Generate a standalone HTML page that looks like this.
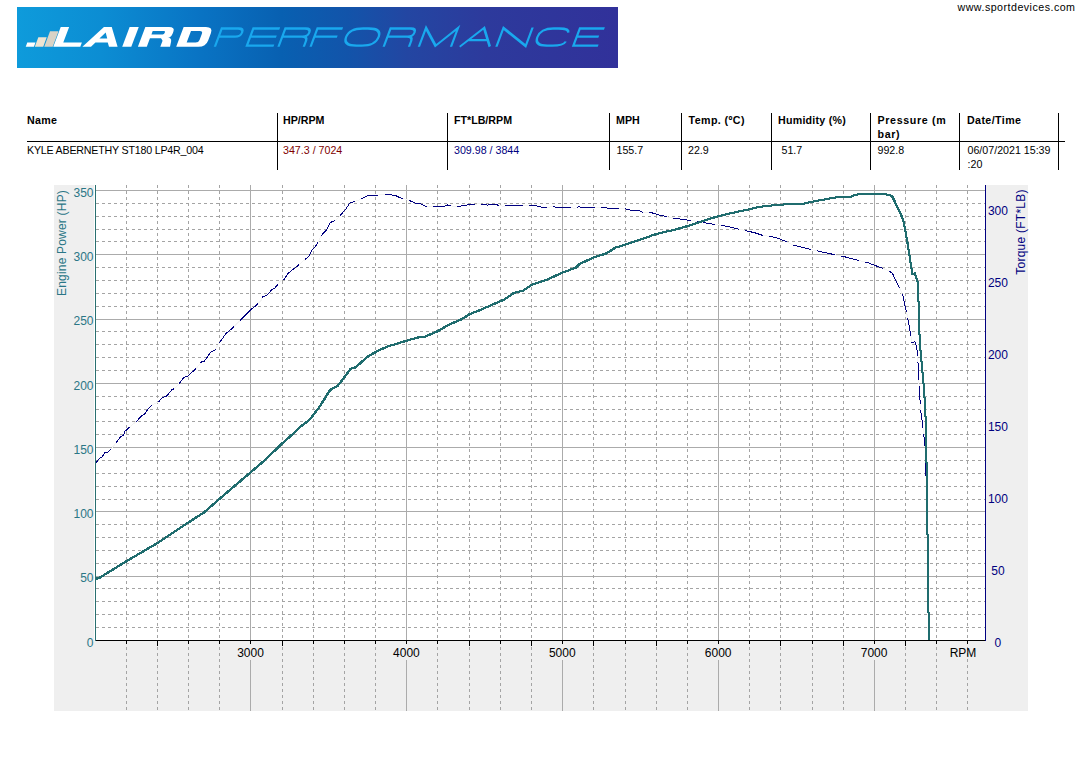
<!DOCTYPE html>
<html><head><meta charset="utf-8"><title>Laird Performance Dyno</title>
<style>
html,body{margin:0;padding:0;background:#fff;}
body{width:1088px;height:764px;position:relative;overflow:hidden;font-family:"Liberation Sans",sans-serif;}
.banner{position:absolute;left:17px;top:7px;width:601px;height:61px;
 background:linear-gradient(90deg,#0e9bdb 0%,#0c8dd3 14%,#0974c4 30%,#0860b1 44%,#1254aa 55%,#2346a2 65%,#2d3a9c 78%,#31319a 100%);}
.t{position:absolute;font-size:10.67px;line-height:14px;white-space:nowrap;color:#000;}
.b{font-weight:bold;}
.vl{position:absolute;top:113px;width:1px;height:57px;background:#000;}
.yl{position:absolute;left:54px;width:39.5px;text-align:right;font-size:12px;line-height:14px;color:#2a7686;}
.yr{position:absolute;left:977.4px;width:41px;text-align:center;font-size:12px;line-height:14px;color:#000080;}
.xl{position:absolute;top:645.5px;width:40px;text-align:center;font-size:12px;line-height:14px;color:#000;}
.rot{position:absolute;font-size:12px;line-height:14px;white-space:nowrap;transform:translate(-50%,-50%) rotate(-90deg);}
</style></head><body>
<div class="banner">
<svg width="600" height="61" viewBox="17 7 600 61" style="position:absolute;left:0;top:0">
 <g transform="translate(0 46.7) skewX(-20.6)">
  <rect x="25.7" y="-4.2" width="8.2" height="4.2" fill="#ffffff"/>
  <rect x="34.8" y="-9.4" width="8.4" height="9.4" fill="#eee4d2"/>
  <rect x="44.2" y="-15.5" width="8.5" height="15.5" fill="#d9d3c6"/>
  <g fill="#ffffff" fill-rule="evenodd">
   <path d="M53.3,0 H80.3 V-4.2 H61.7 V-19.8 H53.3 Z"/>
   <path d="M82.4,0 L96.5,-19.8 H104.3 L117.6,0 H109 L106.2,-4.15 H93.9 L91,0 Z M96.4,-8.1 L100.3,-14.3 L104.2,-8.1 Z"/>
   <path d="M122.2,0 H131.3 V-19.8 H122.2 Z"/>
   <path d="M137.9,0 V-19.8 H161.5 Q167.7,-19.8 167.7,-15.2 V-13 Q167.7,-8.4 161.5,-8.4 H146.8 V0 Z M146.8,-12.3 H158 Q159.5,-12.3 159.5,-13.6 V-14.4 Q159.5,-15.7 158,-15.7 H146.8 Z"/>
   <path d="M160.3,0 H170 L169.2,-5 Q168.6,-9.2 163,-9.4 H157 L160.3,-6 Z"/>
   <path d="M176.2,0 V-19.8 H198.5 Q205.8,-19.8 205.8,-13.5 V-6.3 Q205.8,0 198.5,0 Z M185.1,-4.15 H194 Q197,-4.15 197,-6.8 V-13 Q197,-15.7 194,-15.7 H185.1 Z"/>
  </g>
  <g fill="none" stroke="#19a8ee" stroke-width="2.3" stroke-miterlimit="3">
   <path d="M214.9,0 V-18.2 H231.5 Q236.8,-18.2 236.8,-14.1 Q236.8,-10 231.5,-10 H214.9"/>
   <path d="M272.9,-18.2 H246.5 V-1 H273.5 M246.5,-10 H272.6"/>
   <path d="M278.5,0 V-18.2 H298.5 Q304,-18.2 304,-14.1 Q304,-10 298.5,-10 H278.5 M298.5,-10 Q303.6,-10 303.8,-6 V0"/>
   <path d="M335.8,-18.2 H310.6 V0 M310.6,-10 H333.5"/>
   <path d="M356,-18.2 H361.5 Q375,-18.2 375,-9.6 Q375,-1 361.5,-1 H356 Q342.5,-1 342.5,-9.6 Q342.5,-18.2 356,-18.2 Z"/>
   <path d="M383.7,0 V-18.2 H403.7 Q409.2,-18.2 409.2,-14.1 Q409.2,-10 403.7,-10 H383.7 M403.7,-10 Q408.8,-10 409,-6 V0"/>
   <path d="M418.9,0 V-18.8 L435.2,-1 L451,-18.8 V0"/>
   <path d="M459.7,0 L477,-18.8 L489.8,0 M465.8,-6.6 H485.3"/>
   <path d="M496.4,0 V-18.6 L525.4,-0.8 V-19.2"/>
   <path d="M563,-14 Q562.5,-18.2 552,-18.2 H546.5 Q533.8,-18.2 533.8,-9.6 Q533.8,-1 546.5,-1 H552 Q563,-1 563.8,-5.2"/>
   <path d="M597.6,-18.2 H573 V-1 H597.8 M573,-10 H595"/>
  </g>
 </g>
</svg>
</div>
<div class="t" style="left:957.5px;top:0px;letter-spacing:0.48px" id="www">www.sportdevices.com</div>

<div style="position:absolute;left:27px;top:141px;width:1038px;height:1px;background:#000"></div>
<div class="vl" style="left:277px"></div><div class="vl" style="left:447px"></div><div class="vl" style="left:609px"></div>
<div class="vl" style="left:681px"></div><div class="vl" style="left:771px"></div><div class="vl" style="left:870px"></div>
<div class="vl" style="left:959px"></div><div class="vl" style="left:1058px"></div>

<div class="t b" style="left:27px;top:113px;letter-spacing:0.3px">Name</div>
<div class="t b" style="left:283px;top:113px">HP/RPM</div>
<div class="t b" style="left:454px;top:113px">FT*LB/RPM</div>
<div class="t b" style="left:616px;top:113px">MPH</div>
<div class="t b" style="left:688.5px;top:113px;letter-spacing:0.42px">Temp. (ºC)</div>
<div class="t b" style="left:778px;top:113px;letter-spacing:0.24px">Humidity (%)</div>
<div class="t b" style="left:877.5px;top:113px;letter-spacing:0.66px">Pressure (m<br>bar)</div>
<div class="t b" style="left:967px;top:113px;letter-spacing:0.4px">Date/Time</div>

<div class="t" style="left:27px;top:142.5px;letter-spacing:-0.2px">KYLE ABERNETHY ST180 LP4R_004</div>
<div class="t" style="left:283px;top:142.5px;color:#800000">347.3 / 7024</div>
<div class="t" style="left:454px;top:142.5px;color:#000080">309.98 / 3844</div>
<div class="t" style="left:616.5px;top:142.5px">155.7</div>
<div class="t" style="left:688px;top:142.5px">22.9</div>
<div class="t" style="left:781.5px;top:142.5px">51.7</div>
<div class="t" style="left:877.5px;top:142.5px">992.8</div>
<div class="t" style="left:967.5px;top:142.5px">06/07/2021 15:39<br>:20</div>
<svg width="1088" height="764" viewBox="0 0 1088 764" style="position:absolute;left:0;top:0" shape-rendering="crispEdges">
<rect x="54" y="185" width="974" height="526" fill="#efefef"/>
<rect x="94" y="185" width="892" height="455" fill="#ffffff"/>
<line x1="96" x2="985" y1="190.5" y2="190.5" stroke="#ababab"/>
<line x1="96" x2="985" y1="203.5" y2="203.5" stroke="#a4a4a4" stroke-dasharray="3 3"/>
<line x1="96" x2="985" y1="216.5" y2="216.5" stroke="#a4a4a4" stroke-dasharray="3 3"/>
<line x1="96" x2="985" y1="229.5" y2="229.5" stroke="#a4a4a4" stroke-dasharray="3 3"/>
<line x1="96" x2="985" y1="241.5" y2="241.5" stroke="#a4a4a4" stroke-dasharray="3 3"/>
<line x1="96" x2="985" y1="254.5" y2="254.5" stroke="#ababab"/>
<line x1="96" x2="985" y1="267.5" y2="267.5" stroke="#a4a4a4" stroke-dasharray="3 3"/>
<line x1="96" x2="985" y1="280.5" y2="280.5" stroke="#a4a4a4" stroke-dasharray="3 3"/>
<line x1="96" x2="985" y1="293.5" y2="293.5" stroke="#a4a4a4" stroke-dasharray="3 3"/>
<line x1="96" x2="985" y1="306.5" y2="306.5" stroke="#a4a4a4" stroke-dasharray="3 3"/>
<line x1="96" x2="985" y1="319.5" y2="319.5" stroke="#ababab"/>
<line x1="96" x2="985" y1="331.5" y2="331.5" stroke="#a4a4a4" stroke-dasharray="3 3"/>
<line x1="96" x2="985" y1="344.5" y2="344.5" stroke="#a4a4a4" stroke-dasharray="3 3"/>
<line x1="96" x2="985" y1="357.5" y2="357.5" stroke="#a4a4a4" stroke-dasharray="3 3"/>
<line x1="96" x2="985" y1="370.5" y2="370.5" stroke="#a4a4a4" stroke-dasharray="3 3"/>
<line x1="96" x2="985" y1="383.5" y2="383.5" stroke="#ababab"/>
<line x1="96" x2="985" y1="396.5" y2="396.5" stroke="#a4a4a4" stroke-dasharray="3 3"/>
<line x1="96" x2="985" y1="409.5" y2="409.5" stroke="#a4a4a4" stroke-dasharray="3 3"/>
<line x1="96" x2="985" y1="421.5" y2="421.5" stroke="#a4a4a4" stroke-dasharray="3 3"/>
<line x1="96" x2="985" y1="434.5" y2="434.5" stroke="#a4a4a4" stroke-dasharray="3 3"/>
<line x1="96" x2="985" y1="447.5" y2="447.5" stroke="#ababab"/>
<line x1="96" x2="985" y1="460.5" y2="460.5" stroke="#a4a4a4" stroke-dasharray="3 3"/>
<line x1="96" x2="985" y1="473.5" y2="473.5" stroke="#a4a4a4" stroke-dasharray="3 3"/>
<line x1="96" x2="985" y1="486.5" y2="486.5" stroke="#a4a4a4" stroke-dasharray="3 3"/>
<line x1="96" x2="985" y1="499.5" y2="499.5" stroke="#a4a4a4" stroke-dasharray="3 3"/>
<line x1="96" x2="985" y1="511.5" y2="511.5" stroke="#ababab"/>
<line x1="96" x2="985" y1="524.5" y2="524.5" stroke="#a4a4a4" stroke-dasharray="3 3"/>
<line x1="96" x2="985" y1="537.5" y2="537.5" stroke="#a4a4a4" stroke-dasharray="3 3"/>
<line x1="96" x2="985" y1="550.5" y2="550.5" stroke="#a4a4a4" stroke-dasharray="3 3"/>
<line x1="96" x2="985" y1="563.5" y2="563.5" stroke="#a4a4a4" stroke-dasharray="3 3"/>
<line x1="96" x2="985" y1="576.5" y2="576.5" stroke="#ababab"/>
<line x1="96" x2="985" y1="588.5" y2="588.5" stroke="#a4a4a4" stroke-dasharray="3 3"/>
<line x1="96" x2="985" y1="601.5" y2="601.5" stroke="#a4a4a4" stroke-dasharray="3 3"/>
<line x1="96" x2="985" y1="614.5" y2="614.5" stroke="#a4a4a4" stroke-dasharray="3 3"/>
<line x1="96" x2="985" y1="627.5" y2="627.5" stroke="#a4a4a4" stroke-dasharray="3 3"/>
<line x1="126.5" x2="126.5" y1="185" y2="711" stroke="#a4a4a4" stroke-dasharray="3 3"/>
<line x1="157.5" x2="157.5" y1="185" y2="711" stroke="#a4a4a4" stroke-dasharray="3 3"/>
<line x1="188.5" x2="188.5" y1="185" y2="711" stroke="#a4a4a4" stroke-dasharray="3 3"/>
<line x1="219.5" x2="219.5" y1="185" y2="711" stroke="#a4a4a4" stroke-dasharray="3 3"/>
<line x1="250.5" x2="250.5" y1="185" y2="640" stroke="#ababab"/>
<line x1="250.5" x2="250.5" y1="660" y2="711" stroke="#ababab"/>
<line x1="282.5" x2="282.5" y1="185" y2="711" stroke="#a4a4a4" stroke-dasharray="3 3"/>
<line x1="313.5" x2="313.5" y1="185" y2="711" stroke="#a4a4a4" stroke-dasharray="3 3"/>
<line x1="344.5" x2="344.5" y1="185" y2="711" stroke="#a4a4a4" stroke-dasharray="3 3"/>
<line x1="375.5" x2="375.5" y1="185" y2="711" stroke="#a4a4a4" stroke-dasharray="3 3"/>
<line x1="406.5" x2="406.5" y1="185" y2="640" stroke="#ababab"/>
<line x1="406.5" x2="406.5" y1="660" y2="711" stroke="#ababab"/>
<line x1="437.5" x2="437.5" y1="185" y2="711" stroke="#a4a4a4" stroke-dasharray="3 3"/>
<line x1="469.5" x2="469.5" y1="185" y2="711" stroke="#a4a4a4" stroke-dasharray="3 3"/>
<line x1="500.5" x2="500.5" y1="185" y2="711" stroke="#a4a4a4" stroke-dasharray="3 3"/>
<line x1="531.5" x2="531.5" y1="185" y2="711" stroke="#a4a4a4" stroke-dasharray="3 3"/>
<line x1="562.5" x2="562.5" y1="185" y2="640" stroke="#ababab"/>
<line x1="562.5" x2="562.5" y1="660" y2="711" stroke="#ababab"/>
<line x1="593.5" x2="593.5" y1="185" y2="711" stroke="#a4a4a4" stroke-dasharray="3 3"/>
<line x1="625.5" x2="625.5" y1="185" y2="711" stroke="#a4a4a4" stroke-dasharray="3 3"/>
<line x1="656.5" x2="656.5" y1="185" y2="711" stroke="#a4a4a4" stroke-dasharray="3 3"/>
<line x1="687.5" x2="687.5" y1="185" y2="711" stroke="#a4a4a4" stroke-dasharray="3 3"/>
<line x1="718.5" x2="718.5" y1="185" y2="640" stroke="#ababab"/>
<line x1="718.5" x2="718.5" y1="660" y2="711" stroke="#ababab"/>
<line x1="749.5" x2="749.5" y1="185" y2="711" stroke="#a4a4a4" stroke-dasharray="3 3"/>
<line x1="780.5" x2="780.5" y1="185" y2="711" stroke="#a4a4a4" stroke-dasharray="3 3"/>
<line x1="812.5" x2="812.5" y1="185" y2="711" stroke="#a4a4a4" stroke-dasharray="3 3"/>
<line x1="843.5" x2="843.5" y1="185" y2="711" stroke="#a4a4a4" stroke-dasharray="3 3"/>
<line x1="874.5" x2="874.5" y1="185" y2="640" stroke="#ababab"/>
<line x1="874.5" x2="874.5" y1="660" y2="711" stroke="#ababab"/>
<line x1="905.5" x2="905.5" y1="185" y2="711" stroke="#a4a4a4" stroke-dasharray="3 3"/>
<line x1="936.5" x2="936.5" y1="185" y2="711" stroke="#a4a4a4" stroke-dasharray="3 3"/>
<line x1="967.5" x2="967.5" y1="185" y2="711" stroke="#a4a4a4" stroke-dasharray="3 3"/>
<path d="M95.5 463.0 L96.2 462.4 L99.7 458.3 L102.1 457.1 L105.0 452.4 L108.0 452.1 L112.1 447.7 L117.4 441.2 L120.3 437.1 L123.3 435.4 L125.0 431.2 L130.3 426.5 L137.2 420.6 L142.1 415.3 L144.5 414.2 L148.0 408.9 L152.1 405.1 L159.2 401.4 L161.5 398.3 L166.8 395.9 L171.6 390.0 L175.1 388.2 L180.0 382.4 L183.9 377.4 L187.9 375.9 L196.7 368.0 L201.6 361.7 L204.5 361.1 L210.4 352.3 L214.9 349.9 L219.3 343.1 L226.1 333.3 L232.0 328.7 L238.9 321.5 L250.7 309.7 L255.6 305.8 L261.5 299.9 L262.5 296.9 L267.4 295.0 L271.3 290.1 L275.2 287.7 L281.1 280.2 L284.1 279.3 L288.0 273.4 L296.8 266.5 L303.7 260.6 L308.6 256.7 L311.5 250.8 L315.5 246.4 L322.5 233.9 L326.4 230.0 L330.3 222.5 L336.6 219.8 L345.9 208.9 L349.8 203.1 L358.4 200.3 L368.6 195.3 L378.8 195.0 L385.0 194.4 L395.2 195.3 L400.6 198.0 L406.9 199.5 L416.3 203.4 L420.9 203.8 L425.6 206.3 L444.4 206.3 L447.5 205.0 L453.8 206.3 L463.1 205.9 L470.0 204.3 L479.8 203.9 L487.7 205.1 L494.5 204.3 L503.4 206.3 L509.3 205.3 L534.8 205.5 L542.6 207.3 L552.4 206.9 L568.1 207.7 L576.0 208.2 L578.9 206.7 L582.9 207.9 L597.6 207.5 L615.2 208.4 L623.0 208.2 L630.9 210.2 L638.8 210.6 L642.7 212.2 L652.5 213.0 L660.0 215.3 L662.9 215.7 L671.8 217.9 L681.6 219.3 L691.4 220.6 L704.2 222.2 L706.1 223.2 L717.9 224.7 L730.7 227.1 L738.5 229.1 L754.2 232.6 L763.0 235.5 L772.9 236.9 L779.7 238.9 L786.6 241.8 L793.5 245.2 L801.3 247.1 L810.1 249.3 L826.8 253.0 L843.5 256.5 L859.2 260.6 L868.3 262.8 L875.6 265.7 L883.0 268.3 L889.4 271.2 L892.5 273.4 L895.8 280.7 L900.4 289.9 L903.1 296.3 L904.9 305.5 L906.5 311.8 L909.5 327.5 L912.0 342.8 L915.0 341.7 L916.9 348.1 L918.3 366.8 L918.7 378.6 L919.7 396.3 L920.9 412.0 L922.2 420.8 L923.6 433.6 L925.2 447.3 L926.0 475.7 L927.0 526.0 L927.8 583.0 L928.4 640.0" fill="none" stroke="#f3f3f3" stroke-width="1"/>
<g fill="none" stroke="#000080" stroke-width="1">
<path d="M95.5 463.0 L96.2 462.4 L99.7 458.3 L102.1 457.1 L105.0 452.4 L108.0 452.1 L110.9 449.0"/>
<path d="M115.9 443.0 L117.4 441.2 L120.3 437.1 L123.3 435.4 L125.0 431.2 L129.9 426.9"/>
<path d="M135.9 421.7 L137.2 420.6 L142.1 415.3 L144.5 414.2 L148.0 408.9 L151.7 405.5"/>
<path d="M157.7 402.2 L159.2 401.4 L161.5 398.3 L166.8 395.9 L171.6 390.0 L173.8 388.9"/>
<path d="M179.1 383.5 L180.0 382.4 L183.9 377.4 L187.9 375.9 L195.8 368.8"/>
<path d="M200.7 362.9 L201.6 361.7 L204.5 361.1 L210.4 352.3 L214.9 349.9 L215.3 349.3"/>
<path d="M219.2 343.3 L219.3 343.1 L226.1 333.3 L232.0 328.7 L234.0 326.6"/>
<path d="M239.8 320.6 L250.7 309.7 L255.6 305.8 L257.8 303.6"/>
<path d="M262.3 297.6 L262.5 296.9 L267.4 295.0 L271.3 290.1 L275.2 287.7 L278.0 284.1"/>
<path d="M283.2 279.6 L284.1 279.3 L288.0 273.4 L296.8 266.5 L299.2 264.4"/>
<path d="M305.2 259.4 L308.6 256.7 L311.5 250.8 L315.5 246.4 L317.9 242.1"/>
<path d="M321.3 236.1 L322.5 233.9 L326.4 230.0 L330.3 222.5 L334.7 220.6"/>
<path d="M340.1 215.7 L345.9 208.9 L349.8 203.1 L355.2 201.3"/>
<path d="M361.2 198.9 L368.6 195.3 L378.8 195.0 L379.2 195.0"/>
<path d="M385.2 194.4 L395.2 195.3 L400.6 198.0 L403.2 198.6"/>
<path d="M409.2 200.5 L416.3 203.4 L420.9 203.8 L425.6 206.3 L427.2 206.3"/>
<path d="M433.2 206.3 L444.4 206.3 L447.5 205.0 L451.2 205.8"/>
<path d="M457.2 206.2 L463.1 205.9 L470.0 204.3 L475.2 204.1"/>
<path d="M481.2 204.1 L487.7 205.1 L494.5 204.3 L499.2 205.4"/>
<path d="M505.2 206.0 L509.3 205.3 L523.2 205.4"/>
<path d="M529.2 205.5 L534.8 205.5 L542.6 207.3 L547.2 207.1"/>
<path d="M553.2 206.9 L568.1 207.7 L571.2 207.9"/>
<path d="M577.2 207.6 L578.9 206.7 L582.9 207.9 L595.2 207.6"/>
<path d="M601.2 207.7 L615.2 208.4 L619.2 208.3"/>
<path d="M625.2 208.8 L630.9 210.2 L638.8 210.6 L642.7 212.2 L643.2 212.2"/>
<path d="M649.2 212.7 L652.5 213.0 L660.0 215.3 L662.9 215.7 L667.2 216.8"/>
<path d="M673.2 218.1 L681.6 219.3 L691.2 220.6"/>
<path d="M697.2 221.3 L704.2 222.2 L706.1 223.2 L715.2 224.4"/>
<path d="M721.2 225.3 L730.7 227.1 L738.5 229.1 L739.2 229.3"/>
<path d="M745.2 230.6 L754.2 232.6 L763.0 235.5 L763.2 235.5"/>
<path d="M769.2 236.4 L772.9 236.9 L779.7 238.9 L786.6 241.8 L787.2 242.1"/>
<path d="M793.2 245.1 L793.5 245.2 L801.3 247.1 L810.1 249.3 L811.2 249.5"/>
<path d="M817.2 250.9 L826.8 253.0 L835.2 254.8"/>
<path d="M841.2 256.0 L843.5 256.5 L859.2 260.6"/>
<path d="M865.2 262.1 L868.3 262.8 L875.6 265.7 L883.0 268.3 L883.2 268.4"/>
<path d="M889.2 271.1 L889.4 271.2 L892.5 273.4 L895.8 280.7 L899.5 288.1"/>
<path d="M902.2 294.1 L903.1 296.3 L904.9 305.5 L906.5 311.8 L906.6 312.1"/>
<path d="M907.7 318.1 L909.5 327.5 L910.9 336.1"/>
<path d="M911.9 342.1 L912.0 342.8 L915.0 341.7 L916.9 348.1 L917.5 356.0"/>
<path d="M917.9 362.0 L918.3 366.8 L918.7 378.6 L918.8 380.0"/>
<path d="M919.1 386.0 L919.7 396.3 L920.3 404.0"/>
<path d="M920.7 410.0 L920.9 412.0 L922.2 420.8 L923.0 428.0"/>
<path d="M923.6 434.0 L925.2 447.3 L925.3 452.0"/>
<path d="M925.5 458.0 L926.0 475.7 L926.0 476.0"/>
<path d="M926.1 482.0 L926.5 500.0"/>
<path d="M926.6 506.0 L927.0 524.0"/>
<path d="M927.1 530.0 L927.3 548.0"/>
<path d="M927.4 554.0 L927.6 572.0"/>
<path d="M927.7 578.0 L927.8 583.0 L927.9 596.0"/>
<path d="M928.0 602.0 L928.2 620.0"/>
<path d="M928.3 626.0 L928.4 640.0"/>
</g>
<g fill="none" stroke="#1f6c6e" stroke-width="1" stroke-linejoin="round">
<path d="M95.5 579.0 L100.0 577.5 L126.3 561.3 L157.5 543.0 L188.5 522.4 L203.8 512.6 L219.5 498.9 L250.5 472.4 L266.6 458.6 L280.0 445.4 L293.7 433.3 L299.6 427.4 L309.4 419.9 L319.3 407.2 L330.0 390.1 L337.9 385.6 L344.8 376.7 L350.7 368.9 L355.6 367.3 L368.3 356.1 L378.1 350.8 L387.0 346.7 L397.8 343.4 L407.6 340.4 L419.4 337.1 L425.2 336.5 L437.0 331.6 L448.8 324.7 L460.6 319.8 L469.4 314.3 L479.2 310.4 L485.7 307.6 L504.3 299.5 L514.2 292.8 L523.0 290.7 L531.8 284.8 L548.5 279.1 L562.2 272.6 L576.0 267.7 L579.9 263.8 L593.7 257.5 L606.4 253.4 L615.2 247.7 L625.1 244.7 L638.8 240.2 L652.5 235.3 L660.0 233.0 L673.7 230.0 L687.5 226.1 L701.2 221.6 L717.9 216.3 L734.6 212.4 L749.3 209.4 L754.2 207.9 L766.0 205.9 L779.7 204.9 L787.6 204.1 L803.3 203.7 L815.1 201.2 L826.8 199.0 L837.6 197.1 L851.4 196.5 L855.3 194.9 L861.0 193.9 L884.8 193.9 L892.1 196.1 L898.5 209.3 L903.1 219.4 L906.8 238.6 L909.5 255.1 L912.3 274.3 L915.0 273.4 L917.8 282.6 L918.7 306.4 L918.9 319.6 L919.9 343.2 L921.3 358.9 L923.6 384.5 L925.2 408.1 L926.2 433.6 L926.6 470.2 L927.4 526.5 L928.2 582.9 L928.8 640.0" transform="translate(-0.5 -0.5)"/>
<path d="M95.5 579.0 L100.0 577.5 L126.3 561.3 L157.5 543.0 L188.5 522.4 L203.8 512.6 L219.5 498.9 L250.5 472.4 L266.6 458.6 L280.0 445.4 L293.7 433.3 L299.6 427.4 L309.4 419.9 L319.3 407.2 L330.0 390.1 L337.9 385.6 L344.8 376.7 L350.7 368.9 L355.6 367.3 L368.3 356.1 L378.1 350.8 L387.0 346.7 L397.8 343.4 L407.6 340.4 L419.4 337.1 L425.2 336.5 L437.0 331.6 L448.8 324.7 L460.6 319.8 L469.4 314.3 L479.2 310.4 L485.7 307.6 L504.3 299.5 L514.2 292.8 L523.0 290.7 L531.8 284.8 L548.5 279.1 L562.2 272.6 L576.0 267.7 L579.9 263.8 L593.7 257.5 L606.4 253.4 L615.2 247.7 L625.1 244.7 L638.8 240.2 L652.5 235.3 L660.0 233.0 L673.7 230.0 L687.5 226.1 L701.2 221.6 L717.9 216.3 L734.6 212.4 L749.3 209.4 L754.2 207.9 L766.0 205.9 L779.7 204.9 L787.6 204.1 L803.3 203.7 L815.1 201.2 L826.8 199.0 L837.6 197.1 L851.4 196.5 L855.3 194.9 L861.0 193.9 L884.8 193.9 L892.1 196.1 L898.5 209.3 L903.1 219.4 L906.8 238.6 L909.5 255.1 L912.3 274.3 L915.0 273.4 L917.8 282.6 L918.7 306.4 L918.9 319.6 L919.9 343.2 L921.3 358.9 L923.6 384.5 L925.2 408.1 L926.2 433.6 L926.6 470.2 L927.4 526.5 L928.2 582.9 L928.8 640.0" transform="translate(0.5 -0.5)"/>
<path d="M95.5 579.0 L100.0 577.5 L126.3 561.3 L157.5 543.0 L188.5 522.4 L203.8 512.6 L219.5 498.9 L250.5 472.4 L266.6 458.6 L280.0 445.4 L293.7 433.3 L299.6 427.4 L309.4 419.9 L319.3 407.2 L330.0 390.1 L337.9 385.6 L344.8 376.7 L350.7 368.9 L355.6 367.3 L368.3 356.1 L378.1 350.8 L387.0 346.7 L397.8 343.4 L407.6 340.4 L419.4 337.1 L425.2 336.5 L437.0 331.6 L448.8 324.7 L460.6 319.8 L469.4 314.3 L479.2 310.4 L485.7 307.6 L504.3 299.5 L514.2 292.8 L523.0 290.7 L531.8 284.8 L548.5 279.1 L562.2 272.6 L576.0 267.7 L579.9 263.8 L593.7 257.5 L606.4 253.4 L615.2 247.7 L625.1 244.7 L638.8 240.2 L652.5 235.3 L660.0 233.0 L673.7 230.0 L687.5 226.1 L701.2 221.6 L717.9 216.3 L734.6 212.4 L749.3 209.4 L754.2 207.9 L766.0 205.9 L779.7 204.9 L787.6 204.1 L803.3 203.7 L815.1 201.2 L826.8 199.0 L837.6 197.1 L851.4 196.5 L855.3 194.9 L861.0 193.9 L884.8 193.9 L892.1 196.1 L898.5 209.3 L903.1 219.4 L906.8 238.6 L909.5 255.1 L912.3 274.3 L915.0 273.4 L917.8 282.6 L918.7 306.4 L918.9 319.6 L919.9 343.2 L921.3 358.9 L923.6 384.5 L925.2 408.1 L926.2 433.6 L926.6 470.2 L927.4 526.5 L928.2 582.9 L928.8 640.0" transform="translate(-0.5 0.5)"/>
<path d="M95.5 579.0 L100.0 577.5 L126.3 561.3 L157.5 543.0 L188.5 522.4 L203.8 512.6 L219.5 498.9 L250.5 472.4 L266.6 458.6 L280.0 445.4 L293.7 433.3 L299.6 427.4 L309.4 419.9 L319.3 407.2 L330.0 390.1 L337.9 385.6 L344.8 376.7 L350.7 368.9 L355.6 367.3 L368.3 356.1 L378.1 350.8 L387.0 346.7 L397.8 343.4 L407.6 340.4 L419.4 337.1 L425.2 336.5 L437.0 331.6 L448.8 324.7 L460.6 319.8 L469.4 314.3 L479.2 310.4 L485.7 307.6 L504.3 299.5 L514.2 292.8 L523.0 290.7 L531.8 284.8 L548.5 279.1 L562.2 272.6 L576.0 267.7 L579.9 263.8 L593.7 257.5 L606.4 253.4 L615.2 247.7 L625.1 244.7 L638.8 240.2 L652.5 235.3 L660.0 233.0 L673.7 230.0 L687.5 226.1 L701.2 221.6 L717.9 216.3 L734.6 212.4 L749.3 209.4 L754.2 207.9 L766.0 205.9 L779.7 204.9 L787.6 204.1 L803.3 203.7 L815.1 201.2 L826.8 199.0 L837.6 197.1 L851.4 196.5 L855.3 194.9 L861.0 193.9 L884.8 193.9 L892.1 196.1 L898.5 209.3 L903.1 219.4 L906.8 238.6 L909.5 255.1 L912.3 274.3 L915.0 273.4 L917.8 282.6 L918.7 306.4 L918.9 319.6 L919.9 343.2 L921.3 358.9 L923.6 384.5 L925.2 408.1 L926.2 433.6 L926.6 470.2 L927.4 526.5 L928.2 582.9 L928.8 640.0" transform="translate(0.5 0.5)"/>
</g>
<rect x="95" y="185" width="1" height="456" fill="#2a7070"/>
<rect x="985" y="185" width="1" height="456" fill="#000080"/>
<rect x="96" y="640" width="889" height="1" fill="#000000"/>
<rect x="126" y="641" width="1" height="3" fill="#000"/>
<rect x="157" y="641" width="1" height="5" fill="#000"/>
<rect x="188" y="641" width="1" height="3" fill="#000"/>
<rect x="219" y="641" width="1" height="3" fill="#000"/>
<rect x="250" y="641" width="1" height="3" fill="#000"/>
<rect x="282" y="641" width="1" height="5" fill="#000"/>
<rect x="313" y="641" width="1" height="3" fill="#000"/>
<rect x="344" y="641" width="1" height="3" fill="#000"/>
<rect x="375" y="641" width="1" height="3" fill="#000"/>
<rect x="406" y="641" width="1" height="3" fill="#000"/>
<rect x="437" y="641" width="1" height="3" fill="#000"/>
<rect x="469" y="641" width="1" height="5" fill="#000"/>
<rect x="500" y="641" width="1" height="3" fill="#000"/>
<rect x="531" y="641" width="1" height="5" fill="#000"/>
<rect x="562" y="641" width="1" height="3" fill="#000"/>
<rect x="593" y="641" width="1" height="5" fill="#000"/>
<rect x="625" y="641" width="1" height="3" fill="#000"/>
<rect x="656" y="641" width="1" height="5" fill="#000"/>
<rect x="687" y="641" width="1" height="3" fill="#000"/>
<rect x="718" y="641" width="1" height="3" fill="#000"/>
<rect x="749" y="641" width="1" height="3" fill="#000"/>
<rect x="780" y="641" width="1" height="5" fill="#000"/>
<rect x="812" y="641" width="1" height="3" fill="#000"/>
<rect x="843" y="641" width="1" height="5" fill="#000"/>
<rect x="874" y="641" width="1" height="3" fill="#000"/>
<rect x="905" y="641" width="1" height="5" fill="#000"/>
<rect x="936" y="641" width="1" height="3" fill="#000"/>
<rect x="967" y="641" width="1" height="3" fill="#000"/>
</svg>
<div class="yl" style="top:635.7px">0</div>
<div class="yl" style="top:571.4px">50</div>
<div class="yl" style="top:507.1px">100</div>
<div class="yl" style="top:442.8px">150</div>
<div class="yl" style="top:378.6px">200</div>
<div class="yl" style="top:314.3px">250</div>
<div class="yl" style="top:250.0px">300</div>
<div class="yl" style="top:185.7px">350</div>
<div class="yr" style="top:635.7px">0</div>
<div class="yr" style="top:563.8px">50</div>
<div class="yr" style="top:491.9px">100</div>
<div class="yr" style="top:420.0px">150</div>
<div class="yr" style="top:348.1px">200</div>
<div class="yr" style="top:276.2px">250</div>
<div class="yr" style="top:204.3px">300</div>
<div class="xl" style="left:230.5px">3000</div>
<div class="xl" style="left:386.4px">4000</div>
<div class="xl" style="left:542.3px">5000</div>
<div class="xl" style="left:698.2px">6000</div>
<div class="xl" style="left:854.1px">7000</div>
<div class="xl" style="left:943px">RPM</div>
<div class="rot" id="ylab" style="left:62.3px;top:242.5px;color:#2a7686;letter-spacing:0.2px">Engine Power (HP)</div>
<div class="rot" id="rlab" style="left:1020.8px;top:232px;color:#000080;letter-spacing:0.25px">Torque (FT*LB)</div>
</body></html>
